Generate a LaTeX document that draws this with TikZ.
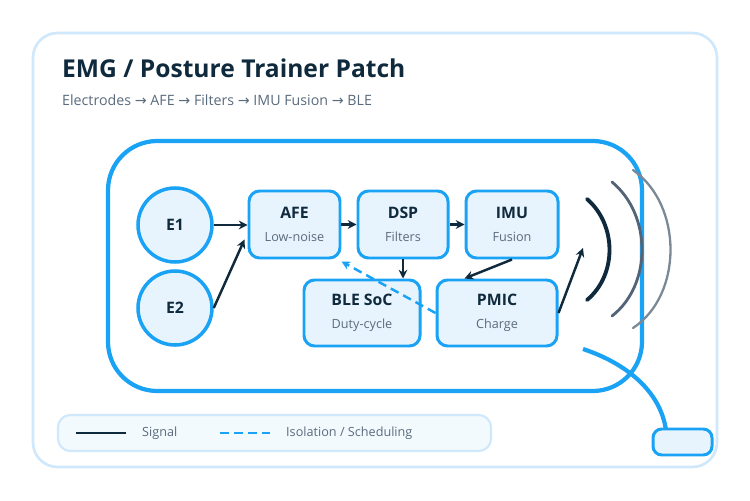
\documentclass[tikz,border=0pt]{standalone}
\usepackage{fontspec}
\setmainfont{Open Sans}
\newfontfamily\symfont{DejaVu Sans}
\usetikzlibrary{arrows.meta,positioning,calc}
\definecolor{ink}{RGB}{15,42,61}
\definecolor{muted}{RGB}{90,107,125}
\definecolor{accent}{RGB}{26,163,245}
\definecolor{pale}{RGB}{232,244,253}
\definecolor{frame}{RGB}{207,232,251}
\tikzset{
  block/.style={draw=accent, line width=1.7pt, fill=pale, rounded corners=6pt, align=center},
  pad/.style={circle, draw=accent, line width=2pt, fill=pale, minimum size=2*37*0.02cm, font=\small\bfseries, text=ink},
  signal/.style={draw=ink, line width=1.4pt, -{Stealth[length=5pt,width=5pt]}},
  isolation/.style={draw=accent, line width=1.4pt, dashed, dash pattern=on 5pt off 3pt, -{Stealth[length=5pt,width=5pt]}},
}
\newcommand{\blk}[2]{{\fontsize{9}{10}\selectfont\bfseries\color{ink}#1}\\[1pt]{\fontsize{7.2}{9}\selectfont\color{muted}#2}}
\begin{document}
\begin{tikzpicture}[x=0.02cm,y=-0.02cm]
  \useasboundingbox (0,0) rectangle (750,500);
  \fill[white] (0,0) rectangle (750,500);
  % card
  \draw[frame, line width=1.5pt, fill=white, rounded corners=14pt] (33,33) rectangle (717,467);
  \node[anchor=west, font=\fontsize{14}{17}\selectfont\bfseries, text=ink] (title) at (56,68) {EMG / Posture Trainer Patch};
  \node[anchor=west, font=\fontsize{8.1}{10}\selectfont, text=muted] (sub) at (56,100)
    {Electrodes {\symfont→} AFE {\symfont→} Filters {\symfont→} IMU Fusion {\symfont→} BLE};
  % patch body
  \draw[accent, line width=2.4pt, rounded corners=28pt] (108,141) rectangle (642,391);
  % electrodes
  \node[pad] (e1) at (175,225) {E1};
  \node[pad] (e2) at (175,308) {E2};
  % blocks
  \node[block, minimum width=91*0.02cm, minimum height=67*0.02cm] (afe) at (294.5,224.5) {\blk{AFE}{Low-noise}};
  \node[block, minimum width=90*0.02cm, minimum height=67*0.02cm] (dsp) at (403,224.5) {\blk{DSP}{Filters}};
  \node[block, minimum width=92*0.02cm, minimum height=67*0.02cm] (imu) at (512,224.5) {\blk{IMU}{Fusion}};
  \node[block, minimum width=116*0.02cm, minimum height=66*0.02cm] (ble) at (362,313) {\blk{BLE SoC}{Duty-cycle}};
  \node[block, minimum width=120*0.02cm, minimum height=66*0.02cm] (pmic) at (497,313) {\blk{PMIC}{Charge}};
  \coordinate (ant) at (583,248);
  % arrows
  \draw[signal] (e1) -- (afe.west |- e1);
  \draw[signal] (e2.east) -- ($(afe.south west)+(-3,-20)$);
  \draw[signal] (afe) -- (dsp);
  \draw[signal] (dsp) -- (imu);
  \draw[signal] (dsp.south) -- (ble.north -| dsp.south);
  \draw[signal] (imu.south) -- ($(pmic.north west)+(29,0)$);
  \draw[signal] (pmic.east) -- (ant);
  \draw[isolation] (pmic.west) -- ($(afe.south east)+(0,2)$);
  % radio waves
  \draw[ink, line width=2.2pt, line cap=round] (587,199) .. controls (617,225) and (617,275) .. (587,300);
  \draw[muted!90!ink, line width=1.6pt, line cap=round] (612,182) .. controls (652,215) and (652,285) .. (612,316);
  \draw[muted!80, line width=1.3pt, line cap=round] (633,170) .. controls (683,205) and (683,295) .. (633,328);
  % cable and plug
  \draw[accent, line width=2.4pt] (583,349) .. controls (625,363) and (660,390) .. (666,430);
  \node[block, minimum width=59*0.02cm, minimum height=26*0.02cm, rounded corners=5pt] (plug) at (682.5,442) {};
  % legend
  \draw[frame, line width=1.2pt, fill=pale!50, rounded corners=7pt] (58,415) rectangle (491,451);
  \coordinate (l1a) at (76,433); \coordinate (l1b) at (126,433);
  \coordinate (l2a) at (220,433); \coordinate (l2b) at (270,433);
  \draw[ink, line width=1.6pt] (l1a) -- (l1b);
  \node[anchor=west, font=\fontsize{7.2}{9}\selectfont, text=muted] (lsig) at (136,433) {Signal};
  \draw[accent, line width=1.6pt, dash pattern=on 5pt off 3pt] (l2a) -- (l2b);
  \node[anchor=west, font=\fontsize{7.2}{9}\selectfont, text=muted] (liso) at (280,433) {Isolation / Scheduling};
\end{tikzpicture}
\end{document}
